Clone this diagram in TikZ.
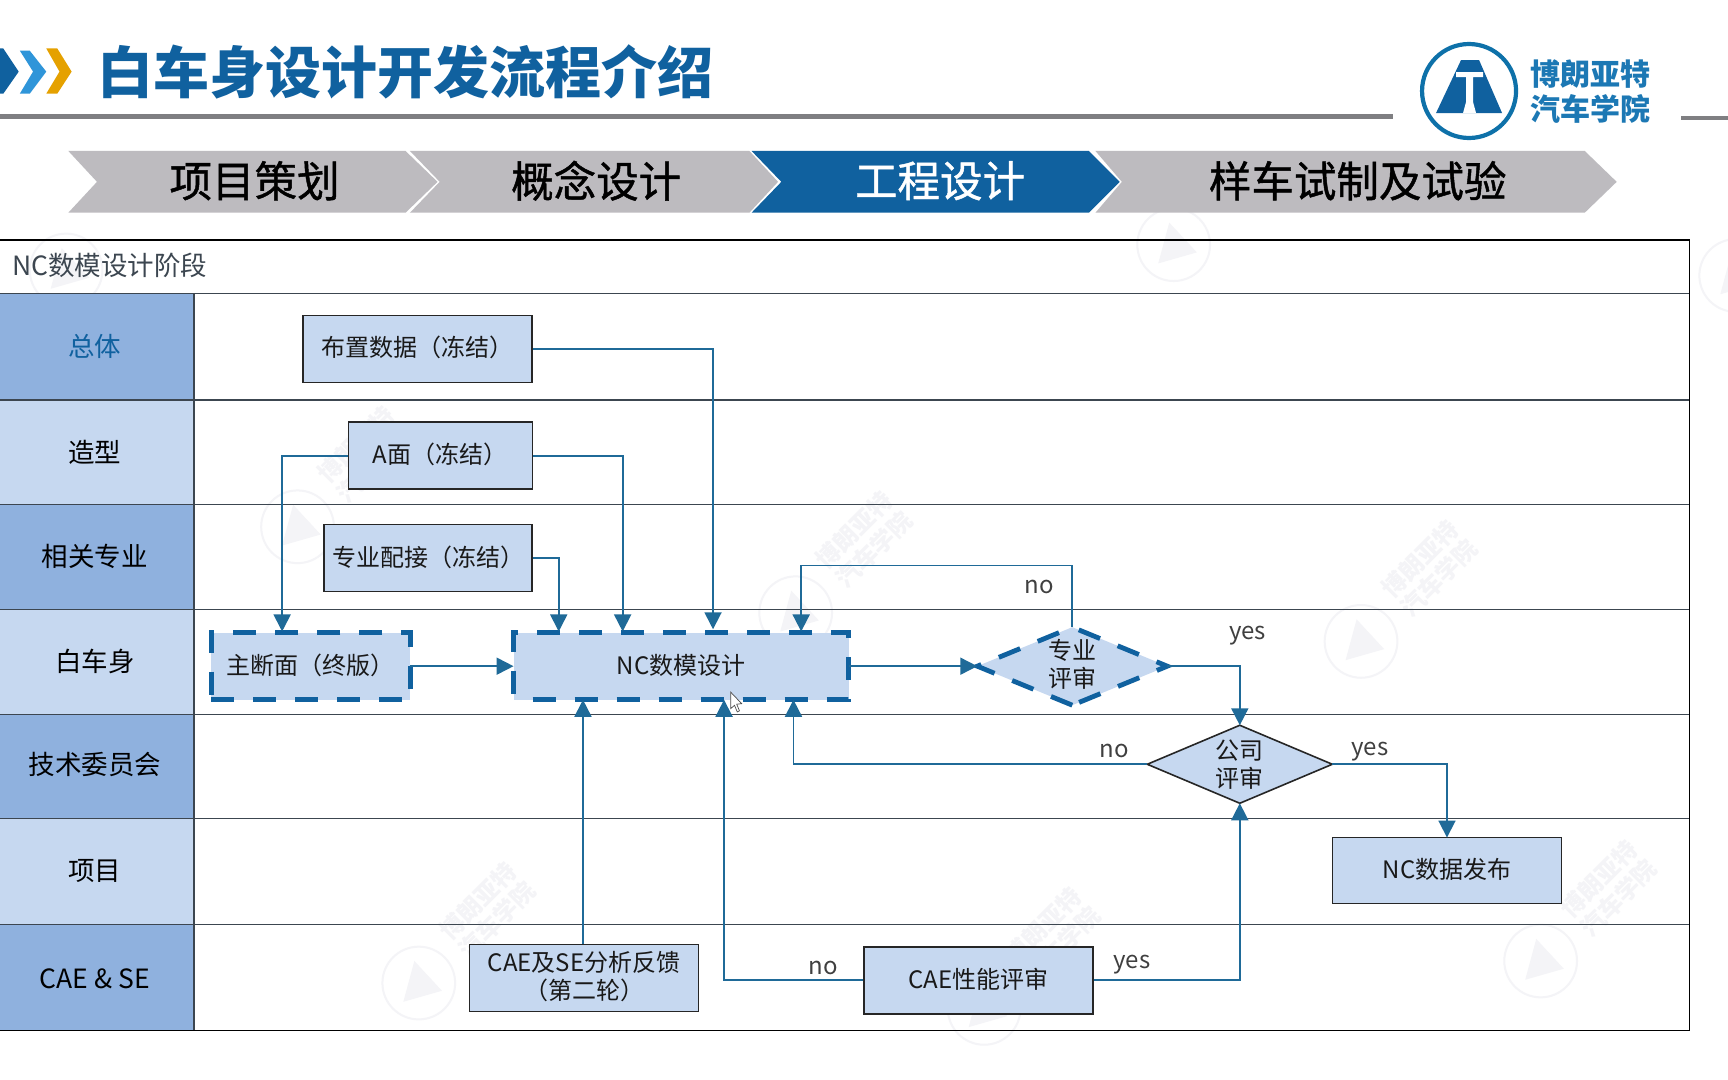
\documentclass[tikz,border=0pt]{standalone}
\usepackage{fontspec}
\setmainfont{Noto Sans CJK SC}
\newfontfamily\medf[FakeBold=1.1]{Noto Sans CJK SC}
\usetikzlibrary{arrows.meta,shapes.geometric}
\definecolor{navy}{HTML}{10619F}
\definecolor{conn}{HTML}{1F6A98}
\definecolor{celld}{HTML}{8FB1DE}
\definecolor{celll}{HTML}{C6D8F0}
\definecolor{chev}{HTML}{BDBBBF}
\definecolor{rule}{HTML}{3C4650}
\definecolor{wm}{HTML}{F4F4F7}
\definecolor{logoblue}{HTML}{1C78B4}
\definecolor{headgray}{HTML}{7F7F82}
\newcommand{\fs}[1]{\fontsize{#1}{#1}\selectfont}
\newcommand{\wlogo}[2]{%
  \draw[wm,line width=2pt] (#1,#2) circle[radius=33];
  \fill[wm] (#1-4,#2-20) -- (#1+21,#2+7) -- (#1-14,#2+17) -- cycle;
}
\newcommand{\wtext}[2]{%
  \node[wm,rotate=45,align=center,font=\bfseries\fs{24},inner sep=0pt] at (#1+62,#2-66) {博朗亚特\\[3pt]汽车学院};
}
\tikzset{
  x=1.102pt,y=-1.102pt,
  rowcell/.style={draw=none,inner sep=0pt,minimum width=194pt,anchor=center,font=\fs{26.5},text=black},
  flowbox/.style={rectangle,draw=black!85,line width=1.5pt,fill=celll,inner sep=0pt,font=\fs{24},text=black!90,align=center,text depth=4.5pt},
  dashbox/.style={flowbox,draw=navy,line width=5pt,outer sep=0pt},
  flowdia/.style={diamond,fill=celll,inner sep=0pt,outer sep=0pt,aspect=2.35},
  diadash/.style={draw=navy,line width=4.8pt,dash pattern=on 23pt off 19pt},
  link/.style={draw=conn,line width=1.8pt,-{Triangle[length=17pt,width=17pt,fill=conn]}},
  yn/.style={font=\fs{24},text=black!75,inner sep=0pt},
  chevtxt/.style={font=\medf\fs{42.5},inner sep=0pt},
  rowline/.style={draw=rule,line width=1.1pt}
}
\begin{document}
\begin{tikzpicture}
\useasboundingbox (0,0) rectangle (1568,980);
\fill[white] (0,0) rectangle (1568,980);
% watermarks
\wlogo{60}{245}
\wlogo{1065}{222}
\wlogo{270}{478}\wtext{270}{478}
\wlogo{722}{556}\wtext{722}{556}
\wlogo{1235}{582}\wtext{1235}{582}
\wlogo{380}{892}\wtext{380}{892}
\wlogo{893}{915}\wtext{893}{915}
\wlogo{1398}{872}\wtext{1398}{872}
\wlogo{1575}{250}
% header
\fill[navy] (-6,44) -- (3,44) -- (17,65) -- (3,85) -- (-6,85) -- (0,65) -- cycle;
\fill[cyan!70!blue!85] (18,46) -- (27,46) -- (42,65) -- (27,85) -- (18,85) -- (30,65) -- cycle;
\fill[orange!60!yellow!90!black] (42,44) -- (52,44) -- (65,65) -- (52,85) -- (42,85) -- (54,65) -- cycle;
\node[font=\bfseries\fs{56},text=navy,inner sep=0pt,anchor=west] (title) at (88,65) {白车身设计开发流程介绍};
\fill[headgray] (0,103) rectangle (1264,108);
\fill[headgray] (1525,105) rectangle (1568,109);
% logo
\begin{scope}[x=1pt,y=-1pt]
\draw[navy!90!cyan,line width=4.2pt] (1469,91) circle[radius=47];
\fill[navy] (1461,60) -- (1479,60) -- (1502,113) -- (1436,113) -- cycle;
\fill[white] (1456,72) -- (1483,72) -- (1483,77) -- (1473,77) -- (1473,102) -- (1476,113) -- (1463,113) -- (1466,102) -- (1466,77) -- (1456,77) -- cycle;
\end{scope}
\node[font=\bfseries\fs{30},text=logoblue,inner sep=0pt] (logoa) at (1443,67) {博朗亚特};
\node[font=\bfseries\fs{30},text=logoblue,inner sep=0pt] (logob) at (1443,99) {汽车学院};
% phase chevrons
\fill[chev] (62,137) -- (368,137) -- (397,165) -- (368,193) -- (62,193) -- (88,165) -- cycle;
\fill[chev] (372,137) -- (680,137) -- (706,165) -- (680,193) -- (372,193) -- (399,165) -- cycle;
\fill[navy] (682,137) -- (988,137) -- (1016,165) -- (988,193) -- (682,193) -- (709,165) -- cycle;
\fill[chev] (994,137) -- (1438,137) -- (1467,165) -- (1438,193) -- (994,193) -- (1018,165) -- cycle;
\node[chevtxt] (ph1) at (231,164) {项目策划};
\node[chevtxt] (ph2) at (541,164) {概念设计};
\node[chevtxt,text=white] (ph3) at (853,164) {工程设计};
\node[chevtxt] (ph4) at (1232,164) {样车试制及试验};
% table
\fill[celld] (0,266) rectangle (176,363);
\fill[celll] (0,363) rectangle (176,458);
\fill[celld] (0,458) rectangle (176,553);
\fill[celll] (0,553) rectangle (176,648);
\fill[celld] (0,648) rectangle (176,743);
\fill[celll] (0,743) rectangle (176,839);
\fill[celld] (0,839) rectangle (176,935);
\draw[black,line width=1.6pt] (0,218) -- (1533,218) -- (1533,935) -- (0,935);
\foreach \yy in {266,363,458,553,648,743,839} \draw[rowline] (0,\yy) -- (1533,\yy);
\draw[rowline] (176,266) -- (176,935);
\node[font=\fs{26.5},text=rule,inner sep=0pt,anchor=west] (stage) at (11,241) {NC数模设计阶段};
\node[rowcell,text=navy] (r1) at (86,314) {总体};
\node[rowcell] (r2) at (86,410) {造型};
\node[rowcell] (r3) at (86,505) {相关专业};
\node[rowcell] (r4) at (86,600) {白车身};
\node[rowcell] (r5) at (86,694) {技术委员会};
\node[rowcell] (r6) at (86,790) {项目};
\node[rowcell] (r7) at (86,888) {CAE \& SE};
% boxes
\node[flowbox,minimum width=229pt,minimum height=67pt] (bz) at (379,316.5) {布置数据（冻结）};
\node[flowbox,minimum width=184pt,minimum height=67pt] (am) at (399.5,413.5) {A面（冻结）};
\node[flowbox,minimum width=208pt,minimum height=67pt] (pj) at (388.5,506.5) {专业配接（冻结）};
\node[dashbox,dash pattern=on 23pt off 19pt,minimum width=199pt,minimum height=67pt] (zd) at (282,604.5) {主断面（终版）};
\node[dashbox,dash pattern=on 23pt off 19pt,dash phase=23pt,minimum width=335pt,minimum height=67pt] (nc) at (618,604.5) {NC数模设计};
\node[flowdia,minimum width=190pt,minimum height=78pt,label={[font=\fs{24},text=black!90,align=center,yshift=1.5pt]center:{专业\\[4pt]评审}}] (zy) at (973,604.5) {};
\draw[diadash,dash phase=35pt] (zy.north) -- (zy.east) -- (zy.south);
\draw[diadash] (zy.south) -- (zy.west) -- (zy.north);
\node[flowdia,draw=black!85,line width=1.6pt,minimum width=185pt,minimum height=78pt,label={[font=\fs{24},text=black!90,align=center]center:{公司\\[4pt]评审}}] (gs) at (1125,693.5) {};
\node[flowbox,minimum width=229pt,minimum height=66pt] (fb) at (1313,790) {NC数据发布};
\node[flowbox,minimum width=229pt,minimum height=67pt] (fk) at (530,887.5) {CAE及SE分析反馈\\[4pt]（第二轮）};
\node[flowbox,minimum width=229pt,minimum height=67pt] (xn) at (888,889.5) {CAE性能评审};
% connector targets
\coordinate (t1) at (647,571);
\coordinate (t2) at (565,573);
\coordinate (t3) at (507,573);
\coordinate (t4) at (256,573);
\coordinate (t5) at (727,573);
\coordinate (t6) at (720,635);
\coordinate (t7) at (657,635);
\coordinate (t8) at (529,635);
\coordinate (t9) at (1313,760);
% connectors
\draw[link] (bz.east) -| (t1);
\draw[link] (am.east) -| (t2);
\draw[link] (am.west) -| (t4);
\draw[link] (pj.east) -| (t3);
\draw[link] (zd.east) -- (nc.west);
\draw[link] (nc.east) -- (zy.west);
\draw[link] (zy.north) -- ++(0,-56) -| (t5);
\draw[link] (zy.east) -| (gs.north);
\draw[link] (gs.west) -| (t6);
\draw[link] (gs.east) -| (t9);
\draw[link] (fk.north -| t8) -- (t8);
\draw[link] (xn.west) -| (t7);
\draw[link] (xn.east) -| (gs.south);
% labels
\node[yn] (l1) at (943,533) {no};
\node[yn] (l2) at (1132,577) {yes};
\node[yn] (l3) at (1011,681) {no};
\node[yn] (l4) at (1243,682) {yes};
\node[yn] (l5) at (747,878.5) {no};
\node[yn] (l6) at (1027,875) {yes};
% cursor
\draw[black!70,fill=white,line width=.7pt] (663,628) -- (663,643) -- (666.5,640) -- (669,646) -- (671,645) -- (668.5,639) -- (673,638.5) -- cycle;
\end{tikzpicture}
\end{document}
